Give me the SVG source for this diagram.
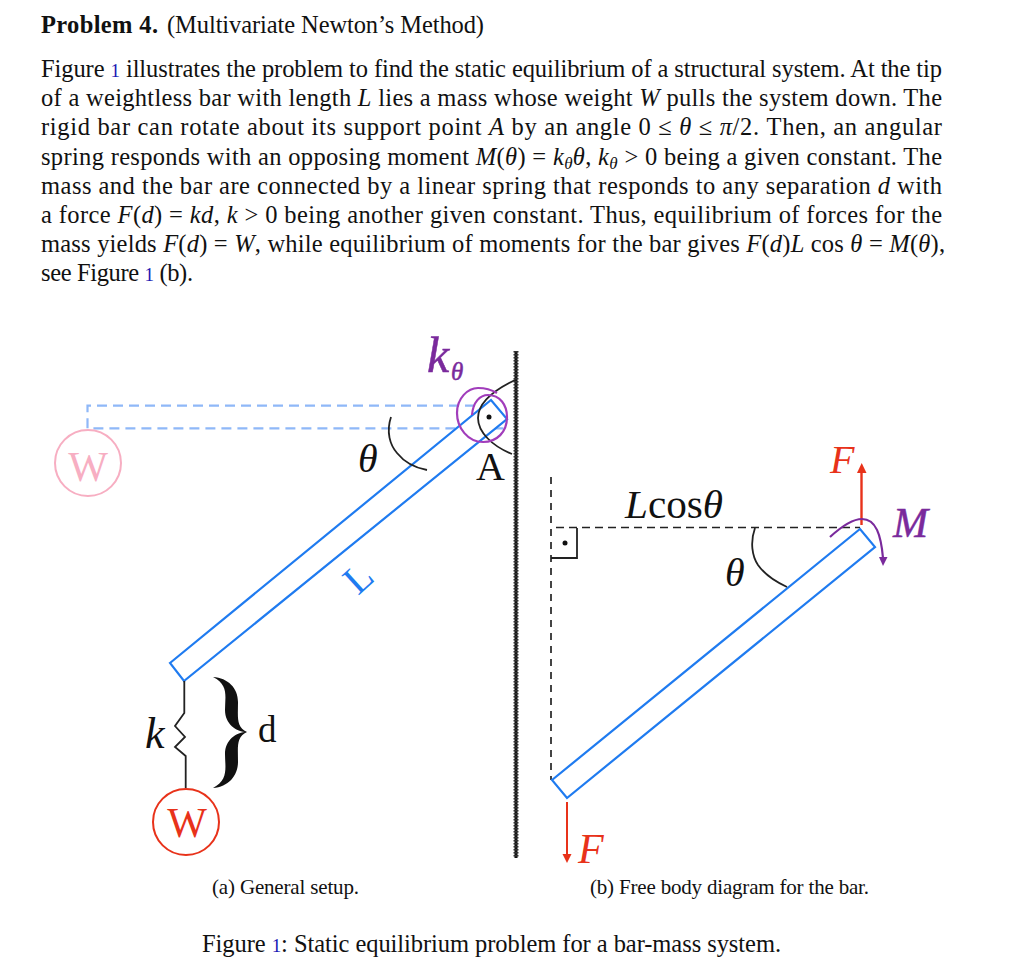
<svg xmlns="http://www.w3.org/2000/svg" width="1024" height="966" viewBox="0 0 1024 966">
<style>
text{font-family:"Liberation Serif",serif;fill:#111}
.b{font-size:24.5px}
.m{font-style:italic}
.s{font-style:italic;font-size:17px}
.n{fill:#1a1ab4;font-size:19px}
.cap{font-size:21px}
.bar{fill:#fff;stroke:#1f7bf0;stroke-width:2.200}
.ln{fill:none;stroke:#222;stroke-width:1.800}
.red{fill:#e8321a}
.pur{fill:#7a2a9c;stroke:#7a2a9c;stroke-width:.5}
.th{font-style:italic;font-size:40px}
</style>
<rect width="1024" height="966" fill="#fff"/>
<g id="text-block">
<text x="41" y="33" class="b" font-weight="bold" textLength="117">Problem 4.</text>
<text x="167" y="33" class="b" textLength="317">(Multivariate Newton’s Method)</text>
<text x="41" y="76.500" class="b" textLength="901">Figure <tspan class="n">1</tspan> illustrates the problem to find the static equilibrium of a structural system. At the tip</text>
<text x="41" y="105.500" class="b" textLength="901">of a weightless bar with length <tspan class="m">L</tspan> lies a mass whose weight <tspan class="m">W</tspan> pulls the system down. The</text>
<text x="41" y="134.500" class="b" textLength="901">rigid bar can rotate about its support point <tspan class="m">A</tspan> by an angle 0 ≤ <tspan class="m">θ</tspan> ≤ <tspan class="m">π</tspan>/2. Then, an angular</text>
<text x="41" y="164.500" class="b" textLength="901">spring responds with an opposing moment <tspan class="m">M</tspan>(<tspan class="m">θ</tspan>) = <tspan class="m">k</tspan><tspan class="s" dy="4">θ</tspan><tspan class="m" dy="-4">θ</tspan>, <tspan class="m">k</tspan><tspan class="s" dy="4">θ</tspan><tspan dy="-4"> &gt; 0 being a given constant. The</tspan></text>
<text x="41" y="193.500" class="b" textLength="901">mass and the bar are connected by a linear spring that responds to any separation <tspan class="m">d</tspan> with</text>
<text x="41" y="222.500" class="b" textLength="901">a force <tspan class="m">F</tspan>(<tspan class="m">d</tspan>) = <tspan class="m">kd</tspan>, <tspan class="m">k</tspan> &gt; 0 being another given constant. Thus, equilibrium of forces for the</text>
<text x="41" y="251.500" class="b" textLength="904">mass yields <tspan class="m">F</tspan>(<tspan class="m">d</tspan>) = <tspan class="m">W</tspan>, while equilibrium of moments for the bar gives <tspan class="m">F</tspan>(<tspan class="m">d</tspan>)<tspan class="m">L</tspan> cos <tspan class="m">θ</tspan> = <tspan class="m">M</tspan>(<tspan class="m">θ</tspan>),</text>
<text x="41" y="280.500" class="b" textLength="152">see Figure <tspan class="n">1</tspan> (b).</text>
</g>
<g id="wall">
<line x1="516" y1="351" x2="516" y2="858" stroke="#111" stroke-width="3"/>
<line x1="516" y1="351" x2="516" y2="858" stroke="#333" stroke-width="5" stroke-dasharray="1.500 1.500"/>
</g>
<g id="ghost-mass">
<path d="M491,405.700H87.500V428.300H505" fill="none" stroke="#8fb8f8" stroke-width="2.200" stroke-dasharray="10 6"/>
<circle cx="88" cy="463" r="33" fill="#fff" stroke="#f7aec2" stroke-width="2"/>
<text x="88" y="481" font-size="42" text-anchor="middle" style="fill:#f7aec2">W</text>
</g>
<g id="bar-a"><path class="bar" d="M170,663L491,400L507,419L184,681Z"/></g>
<g id="support">
<path class="ln" d="M515,380C490,392 478,405 478,418C478,432 492,446 512,454"/>
<circle cx="489" cy="417" r="2.500" fill="#111"/>
<path d="M472,415C473,402 480,395 488,395C500,395 507,405 507,417C507,432 497,442 483,442C468,442 457,428 457,413C457,398 468,388 478,388C486,388 492,390 497,393" fill="none" stroke="#a13dbb" stroke-width="2.200"/>
<text x="427" y="372" font-size="50" class="m pur">k</text>
<text x="451" y="380" font-size="25" class="m pur">θ</text>
<text x="476" y="480" font-size="40">A</text>
</g>
<g id="mass-a">
<path class="ln" d="M184.300,681V713L175,726L185,737L175,747L185.700,756V788"/>
<circle cx="186" cy="822" r="33" fill="#fff" stroke="#e8321a" stroke-width="2"/>
<text x="187" y="837" font-size="42" text-anchor="middle" class="red">W</text>
<text x="145" y="748" font-size="44" class="m">k</text>
<path fill="#111" d="M213,677C228,678 238,688 238,702C238,717 236,727 247,732C236,737 238,747 238,762C238,776 228,787 213,788C229,780 225,767 225,754C225,740 236,732 247,732C236,732 225,724 225,710C225,697 229,685 213,677Z"/>
<text x="258" y="742" font-size="37">d</text>
</g>
<g id="angle-a">
<text x="0" y="0" class="th" transform="translate(358,472)">θ</text>
<path class="ln" d="M391,417C386,432 390,445 397,453C405,463 416,468 427,470"/>
<text x="0" y="0" font-size="40" transform="translate(358,596) rotate(-42)" style="fill:#1f7bf0">L</text>
</g>
<g id="bar-b">
<path d="M551,477V780" fill="none" stroke="#444" stroke-width="2" stroke-dasharray="7 6"/>
<path d="M556,527.500H860" fill="none" stroke="#222" stroke-width="1.600" stroke-dasharray="8 5"/>
<path class="ln" d="M577,528V558H551"/>
<circle cx="565" cy="543" r="2.500" fill="#111"/>
<path class="bar" d="M552,780L860,529L875,547L567,798Z"/>
<text x="625" y="518" font-size="40" textLength="98" lengthAdjust="spacingAndGlyphs"><tspan class="m">L</tspan>cos<tspan class="m">θ</tspan></text>
<text x="0" y="0" class="th" transform="translate(725,586)">θ</text>
<path class="ln" d="M755,528C750,542 752,556 758,565C765,575 776,582 787,587"/>
</g>
<g id="forces">
<line x1="861.500" y1="525" x2="861.500" y2="472" stroke="#e8321a" stroke-width="2.400"/>
<path class="red" d="M857,473H866.500L861.700,463Z"/>
<text x="830" y="473" font-size="40" class="m red">F</text>
<line x1="567" y1="802" x2="567" y2="855" stroke="#e8321a" stroke-width="2"/>
<path class="red" d="M562.500,854H571.500L567,863Z"/>
<text x="578" y="863" font-size="42" class="m red">F</text>
<path d="M830,537C842,526 852,519 862,519C876,519 881,535 883,558" fill="none" stroke="#7a2a9c" stroke-width="2.200"/>
<path d="M879,557H887.500L883,566Z" fill="#7a2a9c"/>
<text x="893" y="537" font-size="42" class="m pur">M</text>
</g>
<g id="captions">
<text x="212" y="894" class="cap" textLength="147">(a) General setup.</text>
<text x="590" y="894" class="cap" textLength="279">(b) Free body diagram for the bar.</text>
<text x="202" y="951.500" class="b" textLength="579">Figure <tspan class="n">1</tspan>: Static equilibrium problem for a bar-mass system.</text>
</g>
</svg>
